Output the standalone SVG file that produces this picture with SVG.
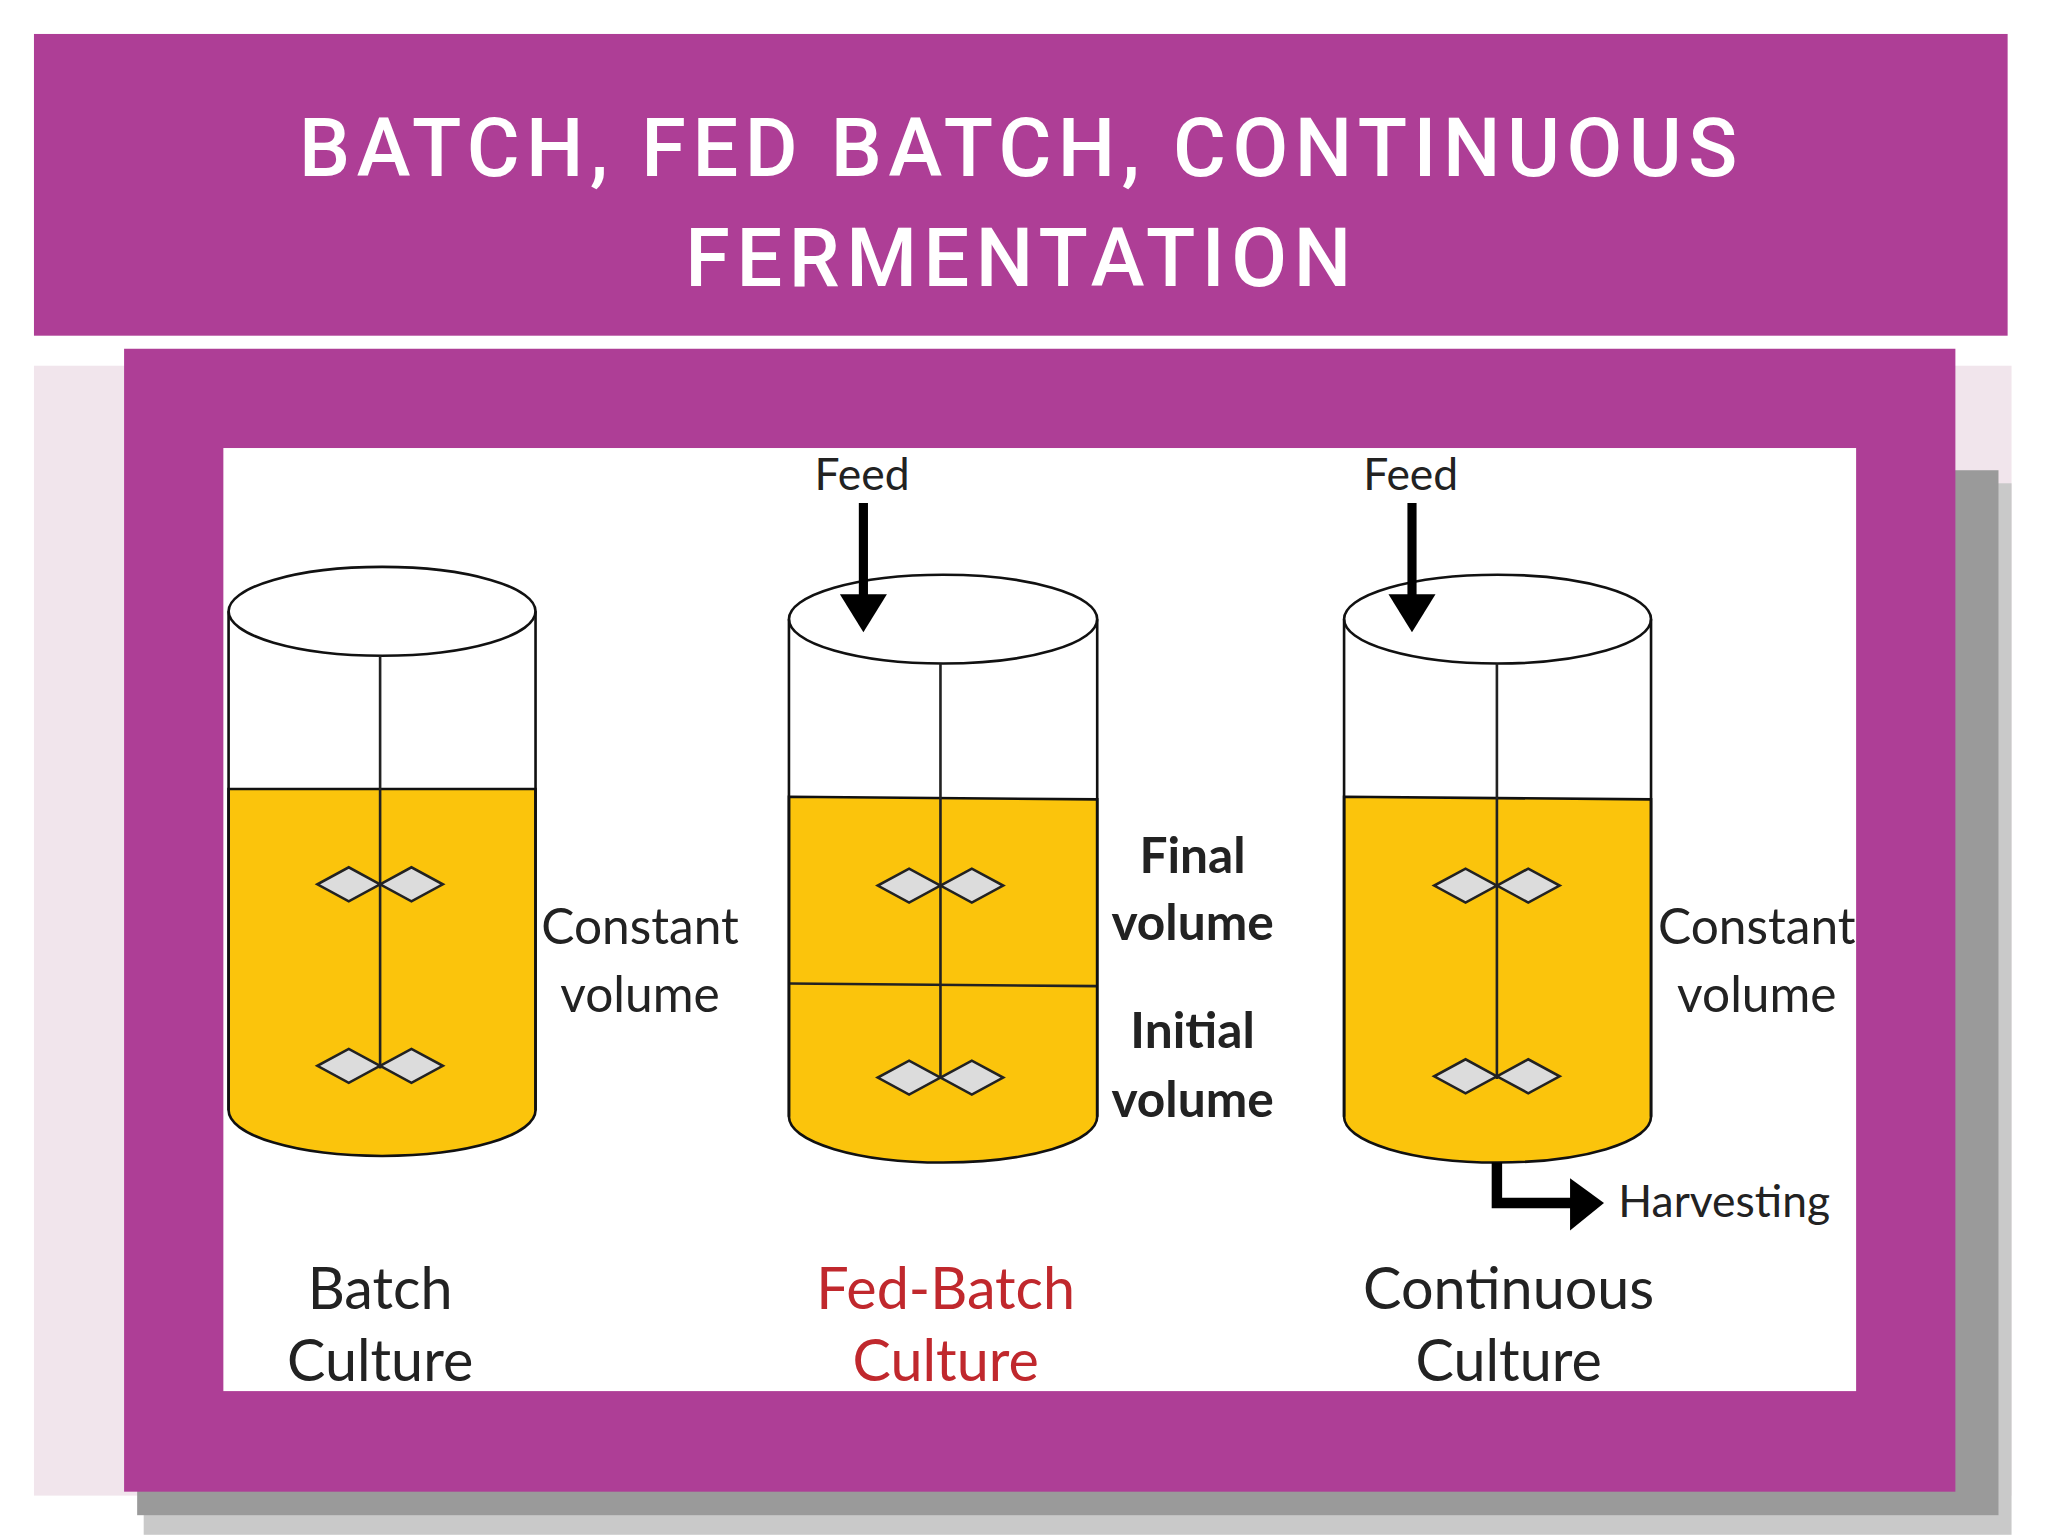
<svg xmlns="http://www.w3.org/2000/svg" width="2048" height="1536" viewBox="0 0 2048 1536">
<style>
.t{font-family:Lato,"Open Sans",sans-serif;fill:#222;text-anchor:middle}
.tank{fill:none;stroke:#111;stroke-width:2}
.liq{fill:#FBC40C;stroke:#111;stroke-width:2}
.imp{fill:#dcdcdc;stroke:#222;stroke-width:2}
</style>
<defs>
<g id="imp"><polygon class="imp" points="0,0 -24,-13 -48,0 -24,13"/><polygon class="imp" points="0,0 24,-13 48,0 24,13"/></g>
</defs>
<rect width="2048" height="1536" fill="#fff"/>
<g transform="scale(1.3062)">
<g id="title">
<rect x="26" y="26" width="1511" height="231" fill="#AE3E96"/>
<text x="782" y="135" font-family="Roboto,'Open Sans',sans-serif" font-size="62" font-weight="500" letter-spacing="5" fill="#fff" text-anchor="middle">BATCH, FED BATCH, CONTINUOUS</text>
<text x="782" y="219" font-family="Roboto,'Open Sans',sans-serif" font-size="62" font-weight="500" letter-spacing="5" fill="#fff" text-anchor="middle">FERMENTATION</text>
</g>
<g id="panel">
<rect x="26" y="280" width="1514" height="865" fill="#f1e5ec"/>
<rect x="110" y="370" width="1430" height="805" fill="#c9c9c9"/>
<rect x="105" y="360" width="1425" height="800" fill="#9a9a9a"/>
<rect x="95" y="267" width="1402" height="875" fill="#AE3E96"/>
<rect x="171" y="343" width="1250" height="722" fill="#fff"/>
</g>
<g id="batch">
<path class="liq" d="M175,604 L410,604 L410,850 A117.5,35 0 0 1 175,850 Z"/>
<path class="tank" d="M175,468 L175,850 M410,468 L410,850"/>
<ellipse class="tank" cx="292.5" cy="468" rx="117.5" ry="34" fill="#fff"/>
<line x1="291" y1="502" x2="291" y2="818" stroke="#222" stroke-width="2"/>
<use href="#imp" x="291" y="677"/><use href="#imp" x="291" y="816"/>
<text class="t" x="490" y="723" font-size="38">Constant</text>
<text class="t" x="490" y="775" font-size="38">volume</text>
<text class="t" x="291" y="1002" font-size="44">Batch</text>
<text class="t" x="291" y="1057" font-size="44">Culture</text>
</g>
<g id="fedbatch">
<path class="liq" d="M604,610 L840,612 L840,855 A118,35 0 0 1 604,855 Z"/>
<line x1="604" y1="753" x2="840" y2="755" stroke="#222" stroke-width="2"/>
<path class="tank" d="M604,474 L604,855 M840,474 L840,855"/>
<ellipse class="tank" cx="722" cy="474" rx="118" ry="34" fill="#fff"/>
<line x1="720" y1="508" x2="720" y2="826" stroke="#222" stroke-width="2"/>
<use href="#imp" x="720" y="678"/><use href="#imp" x="720" y="825"/>
<text class="t" x="660" y="375" font-size="34">Feed</text>
<text class="t" x="913" y="668" font-size="38" font-weight="bold">Final</text>
<text class="t" x="913" y="720" font-size="38" font-weight="bold">volume</text>
<text class="t" x="913" y="802" font-size="38" font-weight="bold">Initial</text>
<text class="t" x="913" y="855" font-size="38" font-weight="bold">volume</text>
<text class="t" x="724" y="1002" font-size="44" style="fill:#c0282d">Fed-Batch</text>
<text class="t" x="724" y="1057" font-size="44" style="fill:#c0282d">Culture</text>
</g>
<g id="continuous">
<path class="liq" d="M1029,610 L1264,612 L1264,855 A117.5,35 0 0 1 1029,855 Z"/>
<path class="tank" d="M1029,474 L1029,855 M1264,474 L1264,855"/>
<ellipse class="tank" cx="1146.5" cy="474" rx="117.5" ry="34" fill="#fff"/>
<line x1="1146" y1="508" x2="1146" y2="826" stroke="#222" stroke-width="2"/>
<use href="#imp" x="1146" y="678"/><use href="#imp" x="1146" y="824"/>
<text class="t" x="1080" y="375" font-size="34">Feed</text>
<text class="t" x="1345" y="723" font-size="38">Constant</text>
<text class="t" x="1345" y="775" font-size="38">volume</text>
<text class="t" x="1320" y="932" font-size="34">Harvesting</text>
<text class="t" x="1155" y="1002" font-size="44">Continuous</text>
<text class="t" x="1155" y="1057" font-size="44">Culture</text>
</g>
<g id="connectors">
<line x1="661" y1="385" x2="661" y2="458" stroke="#000" stroke-width="7"/>
<polygon points="643,455 679,455 661,484" fill="#000"/>
<line x1="1081" y1="385" x2="1081" y2="458" stroke="#000" stroke-width="7"/>
<polygon points="1063,455 1099,455 1081,484" fill="#000"/>
<polyline points="1146,890 1146,921 1205,921" fill="none" stroke="#000" stroke-width="8"/>
<polygon points="1202,902 1228,921 1202,942" fill="#000"/>
</g>
</g>
</svg>
